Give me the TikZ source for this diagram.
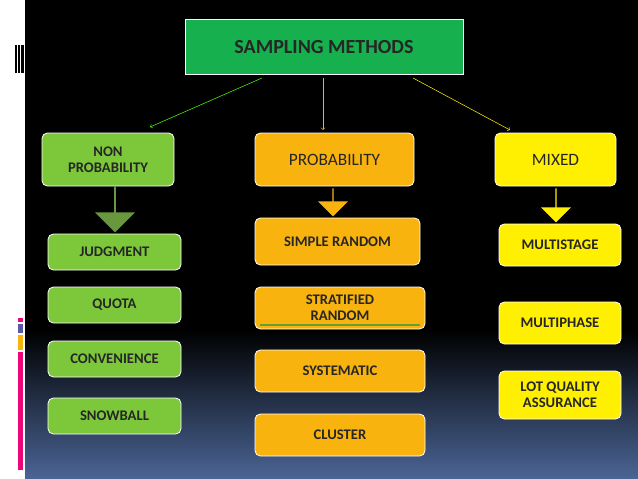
\documentclass[tikz,border=0pt]{standalone}
\usepackage{fontspec}
\setmainfont{Carlito}
\usetikzlibrary{shapes.arrows}
\definecolor{gtitle}{HTML}{16B04E}
\definecolor{lime}{HTML}{7DC83A}
\definecolor{org}{HTML}{F9B30F}
\definecolor{yel}{HTML}{FFEF00}
\definecolor{bgblue}{HTML}{4A6494}
\begin{document}
\begin{tikzpicture}[x=0.75pt,y=-0.75pt,
 box/.style={rounded corners=4pt,draw=white,line width=0.6pt,font=\bfseries\fontsize{11}{12}\selectfont,align=center,text=black!85},
 gb/.style={box,fill=lime},
 ob/.style={box,fill=org},
 yb/.style={box,fill=yel},
 barr/.style={single arrow,draw=none,shape border rotate=270,minimum height=34pt,minimum width=30pt,single arrow head extend=4pt,inner sep=0pt}]
\useasboundingbox (0,0) rectangle (638,478);
\fill[white] (0,0) rectangle (25,478);
\fill[black] (25,0) rectangle (638,330);
\shade[top color=black,bottom color=bgblue] (25,330) rectangle (638,478);
\fill[black] (15,45) rectangle (24,73);
\fill[white] (17,45) rectangle (18,73);\fill[white] (20,45) rectangle (21,73);
\fill[magenta!80!red] (18,318) rectangle (23,322);
\fill[gray!70!blue] (18,324) rectangle (23,333);
\fill[org] (18,335) rectangle (23,350);
\fill[magenta!80!red] (18,352) rectangle (23,470);
\node[box,rounded corners=0pt,fill=gtitle,minimum width=278*0.75pt,minimum height=55*0.75pt,font=\bfseries\fontsize{15}{17}\selectfont] (title) at (324,47) {SAMPLING METHODS};
\node[gb,minimum width=132*0.75pt,minimum height=53*0.75pt] (np) at (108,159.5) {NON\\PROBABILITY};
\node[ob,minimum width=159*0.75pt,minimum height=53*0.75pt,font=\fontsize{13}{15}\selectfont] (p) at (334.5,159.5) {PROBABILITY};
\node[yb,minimum width=121*0.75pt,minimum height=53*0.75pt,font=\fontsize{13}{15}\selectfont] (m) at (555.5,159.5) {MIXED};
\foreach \n/\t/\y in {j/JUDGMENT/252,q/QUOTA/305,c/CONVENIENCE/359,s/SNOWBALL/416}
 \node[gb,minimum width=133*0.75pt,minimum height=36*0.75pt] (\n) at (114.5,\y) {\t};
\node[ob,minimum width=165*0.75pt,minimum height=47*0.75pt] (sr) at (337.5,241.5) {SIMPLE RANDOM};
\node[ob,minimum width=170*0.75pt,minimum height=42*0.75pt] (st) at (340,308) {STRATIFIED\\RANDOM};
\draw[lime!80!black,line width=1.2pt] (260,325) -- (420,325);
\node[ob,minimum width=170*0.75pt,minimum height=42*0.75pt] (sy) at (340,371) {SYSTEMATIC};
\node[ob,minimum width=170*0.75pt,minimum height=42*0.75pt] (cl) at (340,435) {CLUSTER};
\node[yb,minimum width=122*0.75pt,minimum height=42*0.75pt] (ms) at (560,245) {MULTISTAGE};
\node[yb,minimum width=122*0.75pt,minimum height=42*0.75pt] (mp) at (560,323) {MULTIPHASE};
\node[yb,minimum width=122*0.75pt,minimum height=48*0.75pt] (lq) at (560,395) {LOT QUALITY\\ASSURANCE};
\node[barr,fill=lime!70!black!90,minimum height=46*0.75pt,minimum width=40*0.75pt] (a1) at (115,209) {};
\node[barr,fill=org,minimum height=28*0.75pt,minimum width=30*0.75pt] (a2) at (333,202) {};
\node[barr,fill=yel,minimum height=34*0.75pt,minimum width=30*0.75pt] (a3) at (556,205) {};
\coordinate (t1) at (262,78);\coordinate (t2) at (323,78);\coordinate (t3) at (413,78);
\draw[->,green!70!yellow] (t1) -- (150,127);
\draw[->,org] (t2) -- (323,130);
\draw[->,yel] (t3) -- (510,130);
\end{tikzpicture}
\end{document}
